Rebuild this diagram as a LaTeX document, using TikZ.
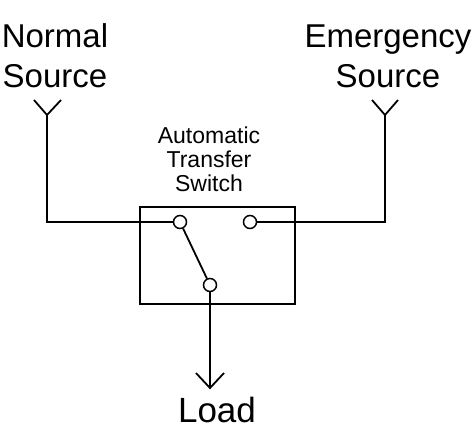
\documentclass[tikz,border=0pt]{standalone}
\usepackage{fontspec}
\setmainfont{Liberation Sans}
\begin{document}
\begin{tikzpicture}[x=1pt,y=-1pt,line width=1.8pt,
  big/.style={font=\fontsize{33}{40}\selectfont,align=center,inner sep=0},
  mid/.style={font=\fontsize{23}{24}\selectfont,align=center,inner sep=0},
  contact/.style={circle,draw,fill=white,minimum size=13pt,inner sep=0,line width=1.5pt}]
\useasboundingbox[fill=white] (0,0) rectangle (474,445);
\node[big] (ns) at (55,56) {Normal\\Source};
\node[big] (es) at (388,56) {Emergency\\Source};
\node[mid] (ats) at (209,159) {Automatic\\Transfer\\Switch};
\node[big,font=\fontsize{35}{40}\selectfont] (load) at (217,410) {Load};
\node[draw,minimum width=155pt,minimum height=97pt,inner sep=0,line width=1.5pt] (box) at (217.5,255.5) {};
\coordinate (la) at (47,115);
\coordinate (ra) at (385,115);
\coordinate (tip) at (210,388);
\draw (34,100) -- (la) -- (61,100);
\draw (372,100) -- (ra) -- (398,100);
\node[contact] (c1) at (180,222) {};
\node[contact] (c2) at (250,222) {};
\node[contact] (c3) at (210,285) {};
\draw (la) |- (c1.west);
\draw (ra) |- (c2.east);
\draw (c1) -- (c3);
\draw (c3.south) -- (tip);
\draw (196,373) -- (tip) -- (224,373);
\end{tikzpicture}
\end{document}
